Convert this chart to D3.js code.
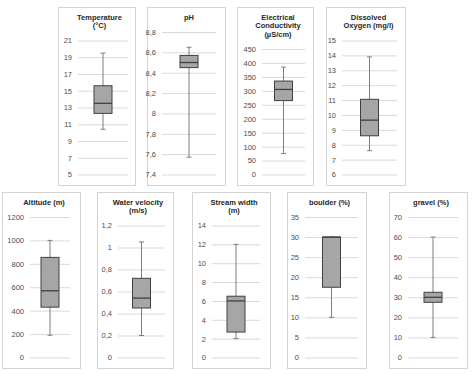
<!DOCTYPE html>
<html>
<head>
<meta charset="utf-8">
<script src="https://cdn.jsdelivr.net/npm/d3@7"></script>
<style>
  body { margin: 0; background: #fff; }
  svg { display: block; font-family: "Liberation Sans", Arial, sans-serif; }
</style>
</head>
<body>
<div id="chart"></div>
<script>
// data
var titles = [
  ["Temperature", "(°C)"],
  ["pH"],
  ["Electrical", "Conductivity", "(µS/cm)"],
  ["Dissolved", "Oxygen (mg/l)"],
  ["Altitude  (m)"],
  ["Water velocity", "(m/s)"],
  ["Stream width", "(m)"],
  ["boulder (%)"],
  ["gravel (%)"]
];
var whiskerLow  = [10.4, 7.57, 75,  7.6,  190, 0.2,  2,   10,   10];
var quart1      = [12.3, 8.45, 265, 8.6,  430, 0.45, 2.7, 17.5, 27.5];
var medians     = [13.5, 8.5,  305, 9.65, 570, 0.54, 6,   30,   30];
var quart3      = [15.6, 8.57, 335, 11.05, 855, 0.72, 6.5, 30,  32.5];
var whiskerHigh = [19.5, 8.65, 385, 13.9, 1000, 1.05, 12, 30,   60];
var tickMin  = [5,  7.4, 0,   6,  0,    0,   0,  0,  0];
var tickMax  = [21, 8.8, 450, 15, 1200, 1.2, 14, 35, 70];
var tickStep = [2,  0.2, 50,  1,  200,  0.2, 2,  5,  10];

// layout: frame [x0, x1, y0, y1], left pad to the gridlines, right pad
var frames = [
  [58, 135, 7, 185, 20, 7],
  [147, 225, 7, 185, 15, 9],
  [237, 313, 7, 185, 25, 8],
  [326, 405, 7, 185, 16, 8],
  [2, 80, 192, 368, 28, 10],
  [97, 173, 192, 368, 21, 8],
  [192, 270, 192, 368, 20, 10],
  [287, 366, 192, 368, 18, 8],
  [389, 467, 192, 368, 19, 9]
];

var commaFmt = d3.formatLocale({decimal: ",", thousands: ".", grouping: [3], currency: ["", ""]}).format("");

var svg = d3.select("#chart").append("svg")
  .attr("width", 474)
  .attr("height", 374);

titles.forEach(function(t, i) {
  var f = frames[i];
  var g = svg.append("g");

  g.append("rect")
    .attr("x", f[0] + 0.5).attr("y", f[2] + 0.5)
    .attr("width", f[1] - f[0]).attr("height", f[3] - f[2])
    .attr("fill", "#fff")
    .attr("stroke", "#d4d4d4");

  var gx0 = f[0] + f[4], gx1 = f[1] - f[5];
  var top = f[2] + 16.5 + 8.5 * t.length;
  var y = d3.scaleLinear()
    .domain([tickMin[i], tickMax[i]])
    .range([f[3] - 10.5, top]);

  var n = Math.round((tickMax[i] - tickMin[i]) / tickStep[i]);
  var ticks = d3.range(n + 1).map(function(k) {
    return +(tickMin[i] + k * tickStep[i]).toFixed(4);
  });

  var axis = d3.axisLeft(y)
    .tickValues(ticks)
    .tickSize(-(gx1 - gx0))
    .tickPadding(6)
    .tickFormat(commaFmt);

  var ax = g.append("g")
    .attr("transform", "translate(" + gx0 + ",0)")
    .call(axis);
  ax.select(".domain").remove();
  ax.selectAll(".tick line").attr("stroke", "#d9d9d9");
  ax.selectAll(".tick text")
    .attr("fill", "#4d4d4d")
    .style("font-size", "7.5px");

  // title
  g.append("text")
    .attr("text-anchor", "middle")
    .attr("font-weight", "bold")
    .attr("fill", "#262626")
    .style("font-size", "7.5px")
    .selectAll("tspan")
    .data(t)
    .enter().append("tspan")
    .attr("x", (f[0] + f[1]) / 2 + 3)
    .attr("y", function(d, k) { return f[2] + 12.5 + k * 8.5; })
    .text(function(d) { return d; });

  // box plot
  var cx = (gx0 + gx1) / 2;
  var bw = 18;
  g.append("line")
    .attr("x1", cx).attr("x2", cx)
    .attr("y1", y(whiskerLow[i])).attr("y2", y(whiskerHigh[i]))
    .attr("stroke", "#7f7f7f");
  [whiskerLow[i], whiskerHigh[i]].forEach(function(v) {
    g.append("line")
      .attr("x1", cx - 2.5).attr("x2", cx + 2.5)
      .attr("y1", y(v)).attr("y2", y(v))
      .attr("stroke", "#7f7f7f");
  });
  g.append("rect")
    .attr("x", cx - bw / 2)
    .attr("y", y(quart3[i]))
    .attr("width", bw)
    .attr("height", y(quart1[i]) - y(quart3[i]))
    .attr("fill", "#a6a6a6")
    .attr("stroke", "#404040");
  g.append("line")
    .attr("x1", cx - bw / 2).attr("x2", cx + bw / 2)
    .attr("y1", y(medians[i])).attr("y2", y(medians[i]))
    .attr("stroke", "#404040")
    .attr("stroke-width", 1.3);
});
</script>
</body>
</html>
